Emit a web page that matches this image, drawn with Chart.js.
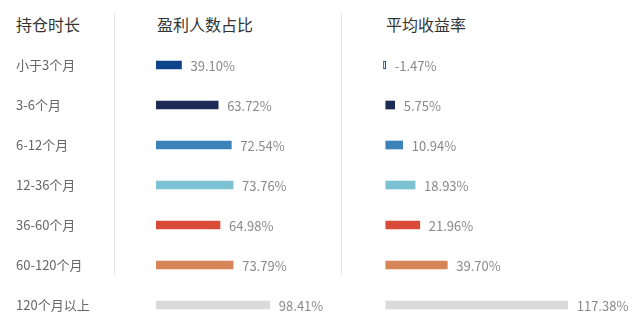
<!DOCTYPE html>
<html>
<head>
<meta charset="utf-8">
<script src="https://cdn.jsdelivr.net/npm/chart.js"></script>
<style>
    body { margin: 0; background: #fff; }
    #wrap { position: relative; width: 640px; height: 323px; overflow: hidden; font-family: 'Noto Sans CJK SC', sans-serif; }
    .head { position: absolute; top: 13px; font-size: 16px; line-height: 23px; color: #333; white-space: nowrap; }
    .sep { position: absolute; top: 13px; width: 1px; height: 262px; background: #e6e6e6; }
    canvas { position: absolute; top: 45px; }
</style>
</head>
<body>
<div id="wrap">
    <div class="head" id="h0" style="left:16px"></div>
    <div class="head" id="h1" style="left:157px"></div>
    <div class="head" id="h2" style="left:386px"></div>
    <div class="sep" style="left:114px"></div>
    <div class="sep" style="left:341px"></div>
    <canvas id="shareChart" width="340" height="280" style="left:0"></canvas>
    <canvas id="returnChart" width="298" height="280" style="left:342px"></canvas>
</div>
<script>
// Data
const headers = ['持仓时长', '盈利人数占比', '平均收益率'];
const durations = ['小于3个月', '3-6个月', '6-12个月', '12-36个月', '36-60个月', '60-120个月', '120个月以上'];
const profitShare = [39.10, 63.72, 72.54, 73.76, 64.98, 73.79, 98.41];
const avgReturn = [-1.47, 5.75, 10.94, 18.93, 21.96, 39.70, 117.38];

const rowColors = [
    '#0f4389', // dark blue
    '#1c2b55', // navy
    '#3b82b8', // mid blue
    '#7dc2d3', // light teal
    '#d94a38', // red
    '#d58557', // orange
    '#dadada'  // light gray
];

headers.forEach((h, i) => { document.getElementById('h' + i).textContent = h; });

Chart.defaults.font.family = "'Noto Sans CJK SC', sans-serif";

// draws "xx.xx%" right after the end of each bar
const valueLabels = {
    id: 'valueLabels',
    afterDatasetsDraw(chart) {
        const ctx = chart.ctx;
        const ds = chart.data.datasets[0];
        ctx.save();
        ctx.font = "13px 'Noto Sans CJK SC', sans-serif";
        ctx.fillStyle = '#8a8a8a';
        ctx.textAlign = 'left';
        ctx.textBaseline = 'middle';
        chart.getDatasetMeta(0).data.forEach((bar, i) => {
            const end = Math.max(bar.x, bar.base);
            ctx.fillText(ds.data[i].toFixed(2) + '%', end + 9, bar.y + 1);
        });
        ctx.restore();
    }
};

function barDataset(values) {
    return {
        data: values,
        barThickness: 8,
        backgroundColor: c => values[c.dataIndex] < 0 ? '#ffffff' : rowColors[c.dataIndex],
        borderColor: c => rowColors[c.dataIndex],
        borderWidth: c => values[c.dataIndex] < 0 ? 1 : 0,
        borderSkipped: false
    };
}

const baseOptions = {
    indexAxis: 'y',
    responsive: false,
    animation: false,
    devicePixelRatio: 1,
    plugins: {
        legend: { display: false },
        tooltip: { enabled: false }
    }
};

new Chart(document.getElementById('shareChart'), {
    type: 'bar',
    data: { labels: durations, datasets: [barDataset(profitShare)] },
    options: {
        ...baseOptions,
        layout: { padding: { left: 16, right: 0, top: 0, bottom: 0 } },
        scales: {
            x: { display: false, min: 22, max: 145.5 },
            y: {
                grid: { display: false },
                border: { display: false },
                ticks: {
                    crossAlign: 'far',
                    color: '#666',
                    font: { size: 13 }
                },
                afterFit: scale => {
                    scale.width = 140;
                    scale.paddingTop = 0;
                    scale.paddingBottom = 0;
                }
            }
        }
    },
    plugins: [valueLabels]
});

new Chart(document.getElementById('returnChart'), {
    type: 'bar',
    data: { labels: durations, datasets: [barDataset(avgReturn)] },
    options: {
        ...baseOptions,
        layout: { padding: { left: 36, right: 0, top: 0, bottom: 0 } },
        scales: {
            x: { display: false, min: -5, max: 164 },
            y: { display: false }
        }
    },
    plugins: [valueLabels]
});
</script>
</body>
</html>
